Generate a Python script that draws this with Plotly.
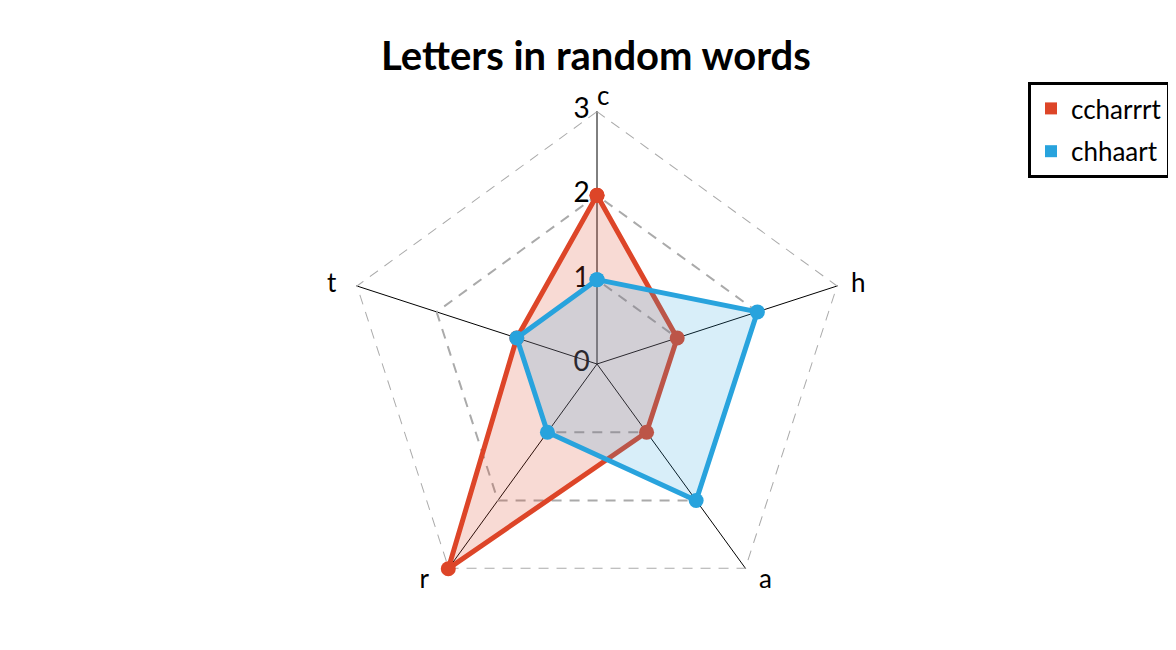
import plotly.graph_objects as go

categories = ["c", "h", "a", "r", "t"]
series_names = ["ccharrrt", "chhaart"]
ccharrrt = [2, 1, 1, 3, 1]
chhaart = [1, 2, 2, 1, 1]
colors = ["#dd4528", "#28a3dd"]
fills = ["rgba(221,69,40,0.2)", "rgba(40,163,221,0.18)"]
radial_ticks = [0, 1, 2, 3]
label_positions = ["top right", "middle right", "bottom right", "bottom left", "middle left"]

FONT = "Lato"
NB = "\u00a0"
W, H = 1176, 650
cx, cy, R = 589, 356, 253
RMAX = radial_ticks[-1]

label_text = [
    categories[0],
    NB * 2 + categories[1],
    NB * 2 + categories[2],
    categories[3] + NB * 3,
    categories[4] + NB * 3,
]

fig = go.Figure()
# outer grid ring (plotly omits the gridline at the range edge)
fig.add_trace(go.Scatterpolar(
    r=[RMAX] * (len(categories) + 1), theta=categories + categories[:1],
    mode="lines", line=dict(color="#aaaaaa", width=2, dash="10px,8px"),
    showlegend=False, hoverinfo="skip", cliponaxis=False))
# radial tick labels along the "c" axis, left side (beneath the markers)
fig.add_trace(go.Scatterpolar(
    r=[max(v, 1e-6) for v in radial_ticks], theta=[categories[0]] * len(radial_ticks),
    mode="text", text=[str(v) + NB for v in radial_ticks], textposition="middle left",
    textfont=dict(size=28, family=FONT, color="black"),
    showlegend=False, hoverinfo="skip", cliponaxis=False))
for name, vals, col, fc in zip(series_names, [ccharrrt, chhaart], colors, fills):
    fig.add_trace(go.Scatterpolar(
        r=vals + vals[:1], theta=categories + categories[:1],
        mode="lines+markers", fill="toself", fillcolor=fc,
        line=dict(color=col, width=5), marker=dict(color=col, size=15),
        name=name, showlegend=False, hoverinfo="skip", cliponaxis=False))
# category labels at the outer vertices
fig.add_trace(go.Scatterpolar(
    r=[RMAX] * len(categories), theta=categories, mode="text",
    text=label_text, textposition=label_positions,
    textfont=dict(size=26, family=FONT, color="black"),
    showlegend=False, hoverinfo="skip", cliponaxis=False))
for name, col in zip(series_names, colors):
    fig.add_trace(go.Scatterpolar(
        r=[None], theta=[categories[0]], mode="markers",
        marker=dict(color=col, size=15, symbol="square"),
        name=name, legendgroup=name, showlegend=True))

fig.update_layout(
    width=W, height=H,
    margin=dict(l=0, r=0, t=0, b=0),
    paper_bgcolor="white",
    font=dict(family=FONT, color="black"),
    title=dict(text="<b>Letters in random words</b>", x=588 / W, xanchor="center",
               y=1 - 48 / H, yanchor="middle", font=dict(size=40, family=FONT)),
    polar=dict(
        domain=dict(x=[(cx - R) / W, (cx + R) / W], y=[(H - cy - R) / H, (H - cy + R) / H]),
        bgcolor="rgba(0,0,0,0)",
        gridshape="linear",
        angularaxis=dict(rotation=90, direction="clockwise", showline=False,
                         gridcolor="black", gridwidth=1.3, ticks="",
                         showticklabels=False),
        radialaxis=dict(range=[0, RMAX], tickvals=radial_ticks, angle=90,
                        showline=False, showticklabels=False, ticks="",
                        gridcolor="#aaaaaa", griddash="10px,8px", gridwidth=1.5),
    ),
    legend=dict(x=1020 / W, xanchor="left", y=1 - 74 / H, yanchor="top",
                bordercolor="black", borderwidth=3, bgcolor="white",
                tracegroupgap=6,
                font=dict(size=26, family=FONT), itemsizing="constant"),
)

fig.write_html("out.html")
